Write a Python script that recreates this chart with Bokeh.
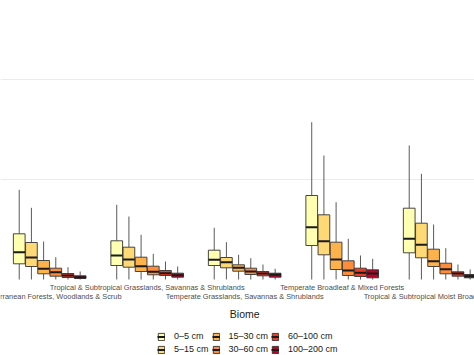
from bokeh.plotting import figure
from bokeh.models import Range1d, FixedTicker, ColumnDataSource, Legend, LegendItem
from bokeh.core.properties import value
from bokeh.embed import file_html
from bokeh.resources import INLINE

# ---- data ----
biomes = [
    "Mediterranean Forests, Woodlands & Scrub",
    "Tropical & Subtropical Grasslands, Savannas & Shrublands",
    "Temperate Grasslands, Savannas & Shrublands",
    "Temperate Broadleaf & Mixed Forests",
    "Tropical & Subtropical Moist Broadleaf Forests",
]
depths = ["0–5 cm", "5–15 cm", "15–30 cm", "30–60 cm", "60–100 cm", "100–200 cm"]
colors = ["#FFFFB2", "#FED976", "#FEB24C", "#FD8D3C", "#F03B20", "#BD0026"]

# one row per biome, one column per depth
upper = [
    [89.7, 71.7, 38.0, 22.3, 12.3, 8.0],
    [74.7, 63.0, 44.7, 25.7, 18.0, 13.0],
    [51.7, 37.3, 24.7, 21.3, 15.0, 10.7],
    [157.3, 124.0, 77.3, 40.7, 24.0, 20.7],
    [134.0, 105.7, 55.0, 31.3, 15.0, 10.0],
]
q3 = [
    [45.7, 37.0, 19.0, 11.3, 6.0, 3.7],
    [38.7, 32.3, 22.3, 13.3, 9.0, 6.3],
    [29.3, 22.0, 14.7, 11.3, 8.0, 6.3],
    [84.0, 64.7, 37.3, 18.7, 11.3, 9.7],
    [71.3, 56.3, 30.3, 16.3, 7.7, 5.0],
]
median = [
    [27.3, 22.0, 10.7, 7.3, 4.0, 2.3],
    [24.0, 20.0, 13.3, 7.7, 6.3, 4.3],
    [19.7, 17.3, 11.7, 8.0, 6.0, 4.7],
    [52.3, 38.3, 20.0, 9.0, 6.7, 6.0],
    [40.7, 34.7, 18.3, 10.3, 6.0, 3.3],
]
q1 = [
    [15.7, 13.0, 5.7, 3.3, 2.0, 1.0],
    [14.0, 12.3, 8.0, 4.7, 4.0, 2.3],
    [14.0, 11.7, 8.3, 5.0, 3.7, 2.3],
    [34.0, 24.7, 10.0, 4.0, 3.0, 1.7],
    [26.7, 21.7, 13.0, 5.7, 3.3, 1.7],
]
lower = [
    [0.0, 0.0, 0.0, 0.0, 0.0, 0.0],
    [0.0, 0.0, 0.0, 0.0, 0.0, 0.0],
    [0.0, 0.0, 0.0, 0.0, 0.0, 0.0],
    [0.0, 0.0, 0.0, 0.0, 0.0, 0.0],
    [0.0, 0.0, 0.0, 0.0, 0.0, 0.0],
]
grid_ticks = [100, 200]

# ---- figure ----
p = figure(width=474, height=355, x_range=Range1d(0.4954, 5.357), y_range=Range1d(-76, 279),
           output_backend="svg", toolbar_location=None, min_border=0,
           min_border_left=0, min_border_right=0, min_border_top=0, min_border_bottom=0)
p.xaxis.visible = False
p.yaxis.visible = False
p.xgrid.visible = False
p.ygrid.ticker = FixedTicker(ticks=grid_ticks)
p.ygrid.grid_line_color = "#EBEBEB"
p.ygrid.grid_line_width = 1
p.outline_line_color = None
p.background_fill_color = "white"
p.border_fill_color = "white"

dodge = 0.125
box_w = 0.12
nd = len(depths)
items = []
for j, d in enumerate(depths):
    off = (j - (nd - 1) / 2) * dodge
    xs = [i + 1 + off for i in range(len(biomes))]
    src = ColumnDataSource(dict(
        x=xs,
        x0=[x - box_w / 2 for x in xs],
        x1=[x + box_w / 2 for x in xs],
        upper=[r[j] for r in upper],
        q3=[r[j] for r in q3],
        med=[r[j] for r in median],
        q1=[r[j] for r in q1],
        lower=[r[j] for r in lower],
    ))
    p.segment(x0="x", x1="x", y0="q3", y1="upper", source=src, line_color="#5a5a5a", line_width=1)
    p.segment(x0="x", x1="x", y0="lower", y1="q1", source=src, line_color="#5a5a5a", line_width=1)
    box = p.vbar(x="x", width=box_w, top="q3", bottom="q1", source=src,
                 fill_color=colors[j], line_color="#333333", line_width=0.9)
    med = p.segment(x0="x0", x1="x1", y0="med", y1="med", source=src,
                    line_color="#1a1a1a", line_width=2)
    items.append(LegendItem(label=d, renderers=[box, med]))

# category labels, staggered on two rows
lab_src = ColumnDataSource(dict(
    x=[i + 1 for i in range(len(biomes))],
    y=[-7.7 if i % 2 == 1 else -17.3 for i in range(len(biomes))],
    text=biomes,
))
p.text(x="x", y="y", text="text", source=lab_src, text_font=value("Liberation Sans"),
       text_font_size="7.4px", text_color="#4D4D4D", text_align="center", text_baseline="middle")
p.text(x=[3.0], y=[-34], text=["Biome"], text_font=value("Liberation Sans"),
       text_font_size="10.5px", text_color="#1a1a1a", text_align="center", text_baseline="middle")

legend = Legend(items=items, location=(157, 1), nrows=2, orientation="vertical",
                label_text_font="Liberation Sans", label_text_font_size="9px",
                label_text_color="#1a1a1a", glyph_width=8, glyph_height=9,
                label_standoff=9, spacing=3, padding=0, margin=0, label_height=9,
                border_line_color=None, background_fill_alpha=0)
p.add_layout(legend, "center")

open("out.html", "w").write(file_html(p, INLINE))
